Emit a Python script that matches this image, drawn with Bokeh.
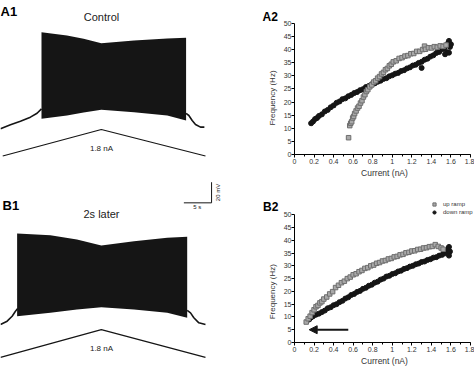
from bokeh.plotting import figure
from bokeh.layouts import row, column
from bokeh.models import (Range1d, Label, Arrow, NormalHead, SingleIntervalTicker,
                          CustomJSTickFormatter, Legend, LegendItem)
from bokeh.embed import file_html
from bokeh.resources import INLINE
import math

FONT = "Liberation Sans"
INK = "#151515"
GREY_LINE = "#6e6e6e"
GREY_FILL = "#a9a9a9"

# ---------------- A1 / B1 : voltage traces (s, mV) and current ramps (s, nA)
a1_pre_t = [0.0, 1.8, 3.6, 5.4, 6.6, 7.4]
a1_pre_v = [-63.4, -59.5, -56.0, -52.1, -48.3, -44.0]
a1_burst_t = [7.4, 12.0, 15.0, 18.2, 24.1, 30.1, 33.5]
a1_burst_top = [30.4, 27.2, 24.0, 19.7, 22.3, 24.3, 25.0]
a1_burst_bot = [-53.7, -50.5, -47.6, -45.0, -47.3, -50.5, -55.3]
a1_post_t = [33.5, 34.0, 34.6, 35.2, 36.1, 36.8]
a1_post_v = [-48.5, -50.5, -55.3, -59.2, -61.8, -61.8]
a1_ramp_t = [0.4, 18.2, 37.0]
a1_ramp_i = [0.0, 1.8, 0.0]

b1_pre_t = [0.0, 1.2, 2.1, 2.7, 3.1]
b1_pre_v = [-59.2, -56.0, -51.2, -46.3, -43.7]
b1_burst_t = [3.0, 9.0, 13.8, 18.2, 24.1, 30.1, 33.7]
b1_burst_top = [29.1, 27.5, 23.3, 17.5, 21.7, 25.0, 25.9]
b1_burst_bot = [-51.2, -47.9, -44.7, -42.4, -44.7, -47.9, -52.7]
b1_post_t = [33.7, 34.3, 34.9, 35.8, 37.0]
b1_post_v = [-45.6, -47.9, -52.7, -57.6, -59.2]
b1_ramp_t = [0.0, 18.2, 37.0]
b1_ramp_i = [0.0, 1.8, 0.0]

scalebar_t = [33.1, 38.1]     # 5 s
scalebar_v = [58.9, 78.9]     # 20 mV

# ---------------- A2 / B2 : frequency (Hz) vs current (nA)
a2_up = [(0.553, 6.4), (0.565, 11.0), (0.575, 11.9), (0.585, 12.5), (0.595, 13.9), (0.605, 14.5),
         (0.615, 15.6), (0.63, 16.6), (0.645, 17.7), (0.66, 18.4), (0.675, 19.6), (0.69, 20.5),
         (0.705, 21.9), (0.72, 22.8), (0.735, 24.0), (0.75, 24.7), (0.77, 25.8), (0.79, 26.5),
         (0.81, 27.6), (0.83, 28.1), (0.85, 29.1), (0.87, 29.7), (0.89, 30.7), (0.91, 31.3),
         (0.93, 32.3), (0.95, 32.8), (0.97, 33.8), (0.99, 34.4), (1.01, 35.3), (1.04, 35.7),
         (1.07, 36.6), (1.10, 36.9), (1.13, 37.5), (1.16, 37.7), (1.19, 38.4), (1.22, 38.5),
         (1.25, 39.3), (1.28, 39.3), (1.31, 40.0), (1.33, 41.3), (1.34, 40.1), (1.37, 40.7),
         (1.40, 40.6), (1.43, 41.1), (1.46, 40.9), (1.49, 41.4), (1.52, 41.2), (1.55, 41.7)]
a2_down = [(0.17, 11.9), (0.19, 12.6), (0.21, 13.5), (0.23, 13.9), (0.25, 14.7), (0.28, 15.3),
           (0.31, 16.4), (0.34, 17.0), (0.37, 18.0), (0.40, 18.7), (0.43, 19.7), (0.46, 20.2),
           (0.49, 21.1), (0.52, 21.4), (0.55, 22.2), (0.58, 22.7), (0.61, 23.4), (0.64, 23.8),
           (0.67, 24.5), (0.70, 24.9), (0.73, 25.7), (0.76, 26.1), (0.79, 26.8), (0.82, 27.1),
           (0.85, 27.7), (0.88, 28.1), (0.91, 28.8), (0.94, 29.1), (0.97, 29.8), (1.00, 30.2),
           (1.03, 30.8), (1.06, 31.1), (1.09, 31.8), (1.12, 32.1), (1.15, 32.8), (1.18, 33.2),
           (1.21, 33.9), (1.24, 34.2), (1.27, 34.9), (1.30, 35.3), (1.30, 33.0), (1.33, 36.1),
           (1.36, 36.5), (1.39, 37.3), (1.42, 37.8), (1.45, 38.7), (1.48, 39.1), (1.51, 40.1),
           (1.53, 40.5), (1.55, 41.5), (1.56, 39.0), (1.57, 42.4), (1.58, 43.3), (1.58, 38.8),
           (1.59, 41.0), (1.60, 42.0), (1.54, 38.2)]
b2_up = [(0.12, 8.0), (0.14, 9.3), (0.16, 10.3), (0.18, 11.7), (0.20, 12.8), (0.22, 14.0),
         (0.24, 14.5), (0.26, 15.5), (0.28, 16.0), (0.30, 17.0), (0.33, 17.8), (0.36, 19.0),
         (0.39, 19.9), (0.42, 21.5), (0.45, 22.4), (0.48, 23.4), (0.51, 24.0), (0.54, 25.0),
         (0.57, 25.6), (0.60, 26.5), (0.63, 26.9), (0.66, 27.7), (0.69, 28.2), (0.72, 29.0),
         (0.75, 29.3), (0.78, 30.0), (0.81, 30.3), (0.84, 31.0), (0.87, 31.3), (0.90, 31.9),
         (0.93, 32.1), (0.96, 32.7), (0.99, 32.9), (1.02, 33.5), (1.05, 33.7), (1.08, 34.3),
         (1.11, 34.5), (1.14, 35.1), (1.17, 35.3), (1.20, 35.8), (1.23, 35.9), (1.26, 36.4),
         (1.29, 36.5), (1.32, 37.0), (1.35, 37.1), (1.38, 37.5), (1.41, 37.6), (1.44, 38.3),
         (1.47, 37.6), (1.50, 37.0), (1.52, 36.5)]
b2_down = [(0.15, 9.0), (0.17, 9.8), (0.19, 10.3), (0.22, 10.9), (0.25, 11.3), (0.28, 11.9),
           (0.31, 12.5), (0.34, 13.4), (0.37, 13.8), (0.40, 14.6), (0.43, 15.0), (0.46, 15.8),
           (0.49, 16.3), (0.52, 17.2), (0.55, 17.7), (0.58, 18.6), (0.61, 19.0), (0.64, 19.8),
           (0.67, 20.2), (0.70, 21.0), (0.73, 21.4), (0.76, 22.2), (0.79, 22.6), (0.82, 23.4),
           (0.85, 23.8), (0.88, 24.6), (0.91, 25.0), (0.94, 25.8), (0.97, 26.1), (1.00, 26.8),
           (1.03, 27.1), (1.06, 27.8), (1.09, 28.1), (1.12, 28.8), (1.15, 29.1), (1.18, 29.7),
           (1.21, 30.0), (1.24, 30.6), (1.27, 30.9), (1.30, 31.5), (1.33, 31.7), (1.36, 32.3),
           (1.39, 32.6), (1.42, 33.2), (1.45, 33.4), (1.48, 34.0), (1.51, 34.3), (1.54, 34.9),
           (1.56, 35.5), (1.57, 36.6), (1.58, 37.4), (1.59, 35.6), (1.58, 34.0)]

x_ticks_step = 0.2
y_ticks_step = 5
arrow_x = [0.55, 0.15]
arrow_y = 5

# ---------------- pixel geometry of the layout
T_PX = 5.54      # px per second on the traces
V_PX = 1.03      # px per mV on the traces
LEFT_W = 280
RIGHT_W = 194
X_PX = 99.4      # px per nA on the f-I plots


def trace_panel(top, h, v_zero, i_zero, i_px):
    p = figure(width=LEFT_W, height=h, output_backend="svg", toolbar_location=None,
               x_axis_type=None, y_axis_type=None, min_border=0,
               x_range=Range1d(0, LEFT_W / T_PX),
               y_range=Range1d((v_zero - (top + h)) / V_PX, (v_zero - top) / V_PX))
    p.extra_y_ranges = {"cur": Range1d((i_zero - (top + h)) / i_px, (i_zero - top) / i_px)}
    p.outline_line_color = None
    p.background_fill_color = "white"
    p.border_fill_color = "white"
    return p


def draw_trace(p, pre_t, pre_v, bt, btop, bbot, post_t, post_v, rt, ri):
    p.varea(x=bt, y1=bbot, y2=btop, fill_color=INK)
    p.line(pre_t, pre_v, line_color=INK, line_width=1.6)
    p.line(post_t, post_v, line_color=INK, line_width=1.6)
    p.line(rt, ri, y_range_name="cur", line_color=INK, line_width=1.2)


def txt(p, x, y, s, size, bold=False, align="center", baseline="middle", angle=0,
        yr="default", color="#222222"):
    p.add_layout(Label(x=x, y=y, text=s, text_font=FONT, text_font_size=size,
                       text_font_style="bold" if bold else "normal", text_align=align,
                       text_baseline=baseline, angle=angle, y_range_name=yr, text_color=color))


# A1 (also carries the A2 panel letter and the A2 y-axis title, which sit left of A2's axis)
a1 = trace_panel(top=0, h=179, v_zero=63, i_zero=155.5, i_px=14.7)
draw_trace(a1, a1_pre_t, a1_pre_v, a1_burst_t, a1_burst_top, a1_burst_bot,
           a1_post_t, a1_post_v, a1_ramp_t, a1_ramp_i)
txt(a1, 0.0, 50.5, "A1", "13px", bold=True, align="left", baseline="alphabetic", color="black")
txt(a1, 18.23, 44.7, "Control", "11px")
txt(a1, 18.23, 0.51, "1.8 nA", "8px", yr="cur")
txt(a1, 262 / T_PX, 45.0, "A2", "12px", bold=True, align="left", baseline="alphabetic",
    color="black")
txt(a1, 271.7 / T_PX, -33.5, "Frequency (Hz)", "8px", angle=math.pi / 2, color="#333333")

# B1
b1 = trace_panel(top=179, h=189, v_zero=263, i_zero=356.8, i_px=15.4)
draw_trace(b1, b1_pre_t, b1_pre_v, b1_burst_t, b1_burst_top, b1_burst_bot,
           b1_post_t, b1_post_v, b1_ramp_t, b1_ramp_i)
b1.line([scalebar_t[0], scalebar_t[1], scalebar_t[1]],
        [scalebar_v[0], scalebar_v[0], scalebar_v[1]], line_color=INK, line_width=1)
txt(b1, 2 / T_PX, 56.3, "B1", "13px", bold=True, align="left", baseline="alphabetic", color="black")
txt(b1, 18.23, 48.5, "2s later", "11px")
txt(b1, 18.23, 0.57, "1.8 nA", "8px", yr="cur")
txt(b1, (scalebar_t[0] + scalebar_t[1]) / 2 - 0.1, scalebar_v[0] - 4.5, "5 s", "6px")
txt(b1, scalebar_t[1] + 1.2, (scalebar_v[0] + scalebar_v[1]) / 2, "20 mV", "6px",
    angle=math.pi / 2)
txt(b1, 262.5 / T_PX, 55.3, "B2", "12px", bold=True, align="left", baseline="alphabetic",
    color="black")
txt(b1, 271.7 / T_PX, -27.4, "Frequency (Hz)", "8px", angle=math.pi / 2, color="#333333")


def fi_panel(top, h, frame_bottom, hz_px):
    border_left = 291 - LEFT_W
    p = figure(width=RIGHT_W, height=h, output_backend="svg", toolbar_location=None,
               x_range=Range1d(0, (RIGHT_W - border_left) / X_PX),
               y_range=Range1d(0, (frame_bottom - top) / hz_px),
               min_border_left=border_left, min_border_right=0, min_border_top=0,
               min_border_bottom=top + h - frame_bottom)
    p.outline_line_color = None
    p.grid.visible = False
    p.background_fill_color = "white"
    p.border_fill_color = "white"
    p.xaxis.ticker = SingleIntervalTicker(interval=x_ticks_step, num_minor_ticks=2)
    p.yaxis.ticker = SingleIntervalTicker(interval=y_ticks_step, num_minor_ticks=0)
    p.xaxis.formatter = CustomJSTickFormatter(code="return (Math.round(tick*10)/10).toString();")
    p.xaxis.bounds = (0, 1.8)
    p.yaxis.bounds = (0, 50)
    for ax in (p.xaxis, p.yaxis):
        ax.axis_line_color = "black"
        ax.major_tick_line_color = "black"
        ax.minor_tick_line_color = "black"
        ax.major_tick_out = 3
        ax.major_tick_in = 0
        ax.minor_tick_out = 2
        ax.minor_tick_in = 0
        ax.major_label_text_font = FONT
        ax.major_label_text_font_size = "7px"
        ax.major_label_text_color = "#333333"
    p.xaxis.major_label_standoff = 1
    p.yaxis.major_label_standoff = 0
    p.xaxis.axis_label = "Current (nA)"
    p.xaxis.axis_label_text_font = FONT
    p.xaxis.axis_label_text_font_size = "8.5px"
    p.xaxis.axis_label_text_font_style = "normal"
    p.xaxis.axis_label_text_color = "#333333"
    p.xaxis.axis_label_standoff = 1
    return p


def fi_data(p, up, down):
    rd = p.scatter([d[0] for d in down], [d[1] for d in down], marker="circle", size=5,
                   fill_color=INK, line_color=INK)
    ru = p.scatter([u[0] for u in up], [u[1] for u in up], marker="square", size=4.5,
                   fill_color=GREY_FILL, line_color=GREY_LINE, line_width=1)
    return ru, rd


# A2
a2 = fi_panel(top=0, h=184, frame_bottom=154, hz_px=2.624)
fi_data(a2, a2_up, a2_down)

# B2
b2 = fi_panel(top=184, h=184, frame_bottom=346, hz_px=2.62)
ru, rd = fi_data(b2, b2_up, b2_down)
b2.add_layout(Arrow(x_start=arrow_x[0], y_start=arrow_y, x_end=arrow_x[1], y_end=arrow_y,
                    line_color=INK, line_width=2,
                    end=NormalHead(size=8, fill_color=INK, line_color=INK)))
leg = Legend(items=[LegendItem(label="up ramp", renderers=[ru]),
                    LegendItem(label="down ramp", renderers=[rd])],
             location=(135, 126), border_line_color=None, background_fill_alpha=0,
             padding=0, margin=0, spacing=0, glyph_width=10, glyph_height=8,
             label_height=8, label_standoff=4, label_text_font=FONT,
             label_text_font_size="6px", label_text_color="#333333")
b2.add_layout(leg)

layout = row(column(a1, b1), column(a2, b2))
open("out.html", "w").write(file_html(layout, INLINE))
